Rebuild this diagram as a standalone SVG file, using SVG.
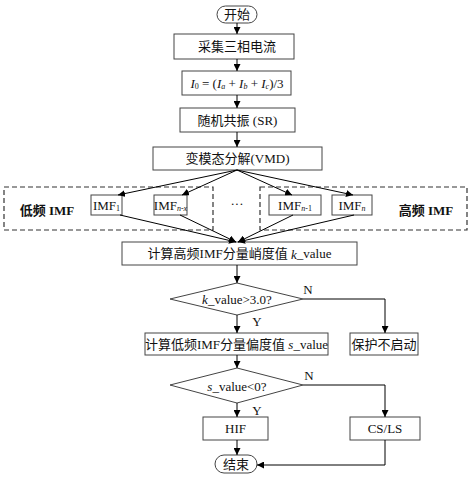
<svg xmlns="http://www.w3.org/2000/svg" width="474" height="478" viewBox="0 0 474 478">
<defs>
<marker id="ah" viewBox="0 0 10 10" refX="10" refY="5" markerWidth="7" markerHeight="7" markerUnits="userSpaceOnUse" orient="auto">
<path d="M0,0 L10,5 L0,10 z" fill="#000"/>
</marker>
</defs>
<style>
.box{fill:#fff;stroke:#444;stroke-width:1}
.dash{fill:none;stroke:#333;stroke-width:1.2;stroke-dasharray:5,3}
.t{font-family:"Liberation Serif","Noto Sans CJK SC",serif;font-size:13px;fill:#111;text-anchor:middle;dominant-baseline:central}
.b{font-weight:bold}
.c line,.c polyline{stroke:#000;stroke-width:1;fill:none;marker-end:url(#ah)}
.i{font-style:italic}
.s{font-size:8px}
</style>
<rect width="474" height="478" fill="#fff"/>
<g id="dashed-groups">
<rect class="dash" x="4" y="187" width="209" height="43"/>
<rect class="dash" x="260" y="187" width="207" height="43"/>
</g>
<g id="start"><rect class="box" x="217" y="6" width="40" height="17" rx="8.5"/><text class="t" x="237" y="14.5">开始</text></g>
<g id="sample"><rect class="box" x="174" y="34" width="120" height="25"/><text class="t" x="237" y="46.5">采集三相电流</text></g>
<g id="i0"><rect class="box" x="182" y="71" width="109" height="24"/><text class="t" x="237" y="83"><tspan class="i">I</tspan><tspan class="s" dy="3">0</tspan><tspan dy="-3"> = (</tspan><tspan class="i">I</tspan><tspan class="s i" dy="3">a</tspan><tspan dy="-3"> + </tspan><tspan class="i">I</tspan><tspan class="s i" dy="3">b</tspan><tspan dy="-3"> + </tspan><tspan class="i">I</tspan><tspan class="s i" dy="3">c</tspan><tspan dy="-3">)/3</tspan></text></g>
<g id="sr"><rect class="box" x="180" y="108" width="115" height="24"/><text class="t" x="237.5" y="120">随机共振 (SR)</text></g>
<g id="vmd"><rect class="box" x="153" y="147" width="169" height="23"/><text class="t" x="237.5" y="158.5">变模态分解(VMD)</text></g>
<g id="low-label"><text class="t b" x="47" y="210">低频 IMF</text></g>
<g id="high-label"><text class="t b" x="426" y="210">高频 IMF</text></g>
<g id="imf1"><rect class="box" x="91" y="195" width="31" height="20"/><text class="t" x="106.5" y="205">IMF<tspan class="s" dy="3">1</tspan></text></g>
<g id="imfnx"><rect class="box" x="154" y="195" width="33" height="20"/><text class="t" x="170.5" y="205">IMF<tspan class="s i" dy="3">n-x</tspan></text></g>
<g id="dots"><text class="t" x="237" y="203">···</text></g>
<g id="imfn1"><rect class="box" x="269" y="195" width="52" height="20"/><text class="t" x="295" y="205">IMF<tspan class="s" dy="3"><tspan class="i">n</tspan>-1</tspan></text></g>
<g id="imfn"><rect class="box" x="332" y="195" width="40" height="20"/><text class="t" x="352" y="205">IMF<tspan class="s i" dy="3">n</tspan></text></g>
<g id="kcalc"><rect class="box" x="122" y="242" width="235" height="23"/><text class="t" x="239.5" y="253.5">计算高频IMF分量峭度值 <tspan class="i">k</tspan>_value</text></g>
<g id="kdec"><polygon class="box" points="170,299 237,283 303,299 237,315"/><text class="t" x="237" y="299"><tspan class="i">k</tspan>_value&gt;3.0?</text></g>
<g id="scalc"><rect class="box" x="145" y="333" width="183" height="22"/><text class="t" x="236.5" y="344">计算低频IMF分量偏度值 <tspan class="i">s</tspan>_value</text></g>
<g id="noprotect"><rect class="box" x="350" y="333" width="68" height="22"/><text class="t" x="384" y="344">保护不启动</text></g>
<g id="sdec"><polygon class="box" points="170,385 237,368 303,385 237,403"/><text class="t" x="237" y="386"><tspan class="i">s</tspan>_value&lt;0?</text></g>
<g id="hif"><rect class="box" x="203" y="417" width="65" height="23"/><text class="t" x="235.5" y="428.5">HIF</text></g>
<g id="csls"><rect class="box" x="350" y="417" width="70" height="23"/><text class="t" x="385" y="428.5">CS/LS</text></g>
<g id="end"><rect class="box" x="215" y="455" width="42" height="18" rx="9"/><text class="t" x="236" y="464">结束</text></g>
<g id="connectors" class="c">
<line x1="237" y1="23" x2="237" y2="34"/>
<line x1="237" y1="59" x2="237" y2="71"/>
<line x1="237" y1="95" x2="237" y2="108"/>
<line x1="237" y1="132" x2="237" y2="147"/>
<line x1="237" y1="170" x2="118" y2="195"/>
<line x1="237" y1="170" x2="182" y2="195"/>
<line x1="237" y1="170" x2="292" y2="195"/>
<line x1="237" y1="170" x2="353" y2="195"/>
<line x1="120" y1="215" x2="236" y2="242"/>
<line x1="180" y1="215" x2="236" y2="242"/>
<line x1="293" y1="215" x2="238" y2="242"/>
<line x1="354" y1="215" x2="238" y2="242"/>
<line x1="237" y1="265" x2="237" y2="283"/>
<polyline points="303,299 385,299 385,333"/>
<line x1="237" y1="315" x2="237" y2="333"/>
<line x1="237" y1="355" x2="237" y2="368"/>
<polyline points="303,385 385,385 385,417"/>
<line x1="237" y1="403" x2="237" y2="417"/>
<line x1="237" y1="440" x2="237" y2="455"/>
<polyline points="385,440 385,465 257,465"/>
</g>
<g id="labels">
<text class="t" x="308" y="289">N</text>
<text class="t" x="257" y="321">Y</text>
<text class="t" x="309" y="375">N</text>
<text class="t" x="257" y="410">Y</text>
</g>
</svg>
